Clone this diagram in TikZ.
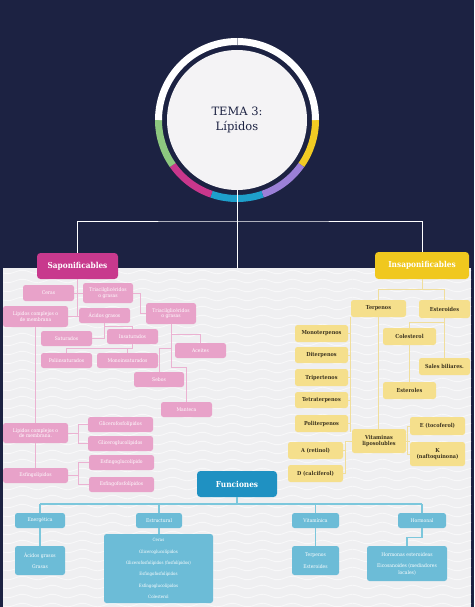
\documentclass[tikz,border=0pt]{standalone}
\usepackage{fontspec}
\setmainfont{DejaVu Serif}
\newfontfamily\condfont{DejaVu Serif Condensed}
\usetikzlibrary{calc}
\definecolor{navy}{HTML}{1C2242}
\definecolor{paper}{HTML}{EFEFF1}
\definecolor{wavec}{HTML}{F8F8F9}
\definecolor{disc}{HTML}{F4F3F5}
\definecolor{sap}{HTML}{C8398D}
\definecolor{pinkbox}{HTML}{E8A2C9}
\definecolor{pinkline}{HTML}{EBB2D2}
\definecolor{insap}{HTML}{F0C81E}
\definecolor{ybox}{HTML}{F5DF8C}
\definecolor{yline}{HTML}{F0DE9C}
\definecolor{ytext}{HTML}{3E3520}
\definecolor{func}{HTML}{1F91C2}
\definecolor{bbox}{HTML}{6CBCD7}
\definecolor{blueline}{HTML}{7CC7DC}
\definecolor{ringyel}{HTML}{F1CB23}
\definecolor{ringpur}{HTML}{9B80D8}
\definecolor{ringblu}{HTML}{1E9FCB}
\definecolor{ringmag}{HTML}{C8378C}
\definecolor{ringgrn}{HTML}{8DC77F}
\tikzset{
  wave/.style={draw=wavec, line width=0.9pt},
  ring/.style={line width=7pt},
  wline/.style={draw=white, line width=0.9pt},
  pkl/.style={draw=pinkline, line width=0.9pt},
  yll/.style={draw=yline, line width=0.9pt},
  bll/.style={draw=blueline, line width=1.4pt},
  sz/.style 2 args={minimum width=#1pt, minimum height=#2pt},
  pk/.style={fill=pinkbox, rounded corners=2.5pt, text=white, inner sep=0.5pt, align=center,
    font=\condfont\fontsize{5}{5.8}\selectfont},
  yl/.style={fill=ybox, rounded corners=2.5pt, text=ytext, inner sep=0.5pt, align=center,
    font=\condfont\bfseries\fontsize{5.5}{6.4}\selectfont},
  bl/.style={fill=bbox, rounded corners=2.5pt, text=white, inner sep=0.5pt, align=center,
    font=\condfont\fontsize{5}{6.5}\selectfont},
  bld/.style={bl, font=\condfont\fontsize{4.4}{6.5}\selectfont},
  head/.style={rounded corners=3.5pt, text=white, inner sep=0.5pt,
    font=\condfont\bfseries\fontsize{8.2}{10}\selectfont},
}

\begin{document}
\begin{tikzpicture}[x=1pt,y=-1pt]
  \useasboundingbox (0,0) rectangle (474,607);
  \fill[navy] (0,0) rectangle (474,607);
  \fill[paper] (3,268) rectangle (471,607);
  \begin{scope}
    \clip (3,268) rectangle (471,607);
    \foreach \k in {0,...,38}
      \draw[wave] plot[domain=3:471, samples=80, smooth] (\x, {272+9*\k+1.8*sin(12*\x)});
  \end{scope}

  % title circle
  \coordinate (ctr) at (237,120);
  \coordinate (hub) at (237,221);
  \coordinate (stem) at (237,268);
  \foreach \a/\b/\c in {0/35/ringyel, 35/71/ringpur, 71/109/ringblu, 109/145/ringmag, 145/180/ringgrn, 180/360/white}
    \draw[ring, \c] (ctr) ++(\a:78.5) arc[start angle=\a, end angle=\b, radius=78.5];
  \draw[draw=navy!40, line width=0.5pt] (237,38) -- (237,45);
  \node[circle, fill=disc, minimum size=140pt, inner sep=0pt, align=center, text=navy,
    font=\fontsize{11.5}{15}\selectfont] (title) at (ctr) {TEMA 3:\\Lípidos};

  % headers
  \node[head, fill=sap, sz={81}{26}] (sapon) at (77.5,266) {Saponificables};
  \node[head, fill=insap, sz={94}{27}] (insapon) at (422,265.5) {Insaponificables};
  \node[head, fill=func, sz={80}{26}] (funciones) at (237,484) {Funciones};
  \draw[wline] (title.south) -- (stem);
  \draw[wline] (sapon.north) |- (hub) -| (insapon.north);

  % saponificables
  \node[pk, sz={51}{16}] (ceras) at (48.5,293) {Ceras};
  \node[pk, sz={50}{20}] (triA) at (108,293) {Triacilglicéridos\\o grasas};
  \node[pk, sz={65}{21}] (lipA) at (35.5,316.5) {Lípidos complejos o\\de membrana};
  \node[pk, sz={51}{15}] (acidos) at (104.5,315.5) {Ácidos grasos};
  \node[pk, sz={50}{21}] (triB) at (171,313.5) {Triacilglicéridos\\o grasas};
  \node[pk, sz={51}{15}] (saturados) at (66.5,338.5) {Saturados};
  \node[pk, sz={51}{15}] (insat) at (132.5,336.5) {Insaturados};
  \node[pk, sz={51}{15}] (aceites) at (200.5,350.5) {Aceites};
  \node[pk, sz={51}{15}] (poli) at (66.5,360.5) {Poliinsaturados};
  \node[pk, sz={61}{15}] (mono) at (127.5,360.5) {Monoinsaturados};
  \node[pk, sz={50}{15}] (sebos) at (159,379.5) {Sebos};
  \node[pk, sz={51}{15}] (manteca) at (186.5,409.5) {Manteca};
  \node[pk, sz={65}{20}] (lipB) at (35.5,433) {Lípidos complejos o\\de membrana.};
  \node[pk, sz={65}{15}] (glifos) at (120.5,424.5) {Glicerofosfolípidos};
  \node[pk, sz={65}{15}] (gliglu) at (120.5,443.5) {Gliceroglucolípidos};
  \node[pk, sz={65}{15}] (esfglu) at (121.5,462.5) {Esfingoglucolípido};
  \node[pk, sz={65}{15}] (esfingo) at (35.5,475.5) {Esfingolípidos};
  \node[pk, sz={65}{15}] (esffos) at (121.5,484.5) {Esfingofosfolípidos};

  \draw[pkl] (sapon.south) -- (sapon.south |- lipA.east);
  \draw[pkl] (ceras.east) -- (triA.west);
  \draw[pkl] (lipA.east) -- (lipA.east -| acidos.west);
  \draw[pkl] (triA.east) -- ++(7,0) |- (triB.west);
  \draw[pkl] (acidos.south) |- (saturados.east);
  \draw[pkl] ($(acidos.south)+(0,3)$) -| (insat.north);
  \draw[pkl] (insat.south) -- ++(0,4.5) -| (poli.north);
  \draw[pkl] ($(insat.south)+(0,4.5)$) -| (mono.north);
  \draw[pkl] (triB.south) -- ++(0,43) -| (manteca.north);
  \draw[pkl] ($(triB.south)+(0,10)$) -| (aceites.north);
  \draw[pkl] ($(triB.south)+(0,24)$) -| (sebos.north);
  \draw[pkl] (lipA.south) -- (lipB.north);
  \draw[pkl] (lipB.south) -- (esfingo.north);
  \draw[pkl] (lipB.east) -- ++(10,0);
  \draw[pkl] ($(lipB.east)+(10,0)$) |- (glifos.west);
  \draw[pkl] ($(lipB.east)+(10,0)$) |- (gliglu.west);
  \draw[pkl] (esfingo.east) -- ++(10,0);
  \draw[pkl] ($(esfingo.east)+(10,0)$) |- (esfglu.west);
  \draw[pkl] ($(esfingo.east)+(10,0)$) |- (esffos.west);

  % insaponificables
  \node[yl, sz={55}{17}] (terpenos) at (378.5,308.5) {Terpenos};
  \node[yl, sz={51}{18}] (esteroides) at (444.5,309) {Esteroides};
  \node[yl, sz={53}{17}] (monot) at (321.5,333.5) {Monoterpenos};
  \node[yl, sz={53}{16}] (dit) at (321.5,355) {Diterpenos};
  \node[yl, sz={53}{17}] (trip) at (321.5,377.5) {Tripertenos};
  \node[yl, sz={53}{16}] (tetra) at (321.5,400) {Tetraterpenos};
  \node[yl, sz={53}{17}] (polit) at (321.5,423.5) {Politerpenos};
  \node[yl, sz={54}{24}] (vitlip) at (379,441) {Vitaminas\\liposolubles};
  \node[yl, sz={55}{17}] (aret) at (315.5,450.5) {A (retinol)};
  \node[yl, sz={55}{17}] (dcal) at (315.5,473.5) {D (calciferol)};
  \node[yl, sz={53}{17}] (coles) at (409.5,336.5) {Colesterol};
  \node[yl, sz={51}{17}] (sales) at (444.5,366.5) {Sales biliares.};
  \node[yl, sz={53}{17}] (esteroles) at (409.5,390.5) {Esteroles};
  \node[yl, sz={55}{18}] (etoc) at (437.5,426) {E (tocoferol)};
  \node[yl, sz={55}{24}] (knaf) at (437.5,454) {K\\(naftoquinona)};

  \draw[yll] (insapon.south) -- ++(0,10) -| (terpenos.north);
  \draw[yll] ($(insapon.south)+(0,10)$) -| (esteroides.north);
  \draw[yll] (terpenos.south west) -- (terpenos.south west |- polit.south);
  \foreach \n in {monot,dit,trip,tetra,polit}
    \draw[yll] (\n.east) -- (\n.east -| terpenos.south west);
  \draw[yll] (terpenos.south) -- (terpenos.south |- vitlip.north);
  \draw[yll] (vitlip.west) -- ++(-6,0) |- (dcal.east);
  \draw[yll] (aret.east) -- ++(3,0);
  \draw[yll] (vitlip.east) -- (vitlip.east -| etoc.west);
  \draw[yll] (etoc.west) -- ++(-2.5,0) |- (knaf.west);
  \draw[yll] (esteroides.south) -- (sales.north);
  \draw[yll] ($(esteroides.south)+(0,4)$) -| (coles.north);
  \draw[yll] (coles.south) -- (esteroles.north);

  % funciones
  \coordinate (fbar) at (237,504);
  \node[bl, sz={50}{15}] (energetica) at (40,520.5) {Energética};
  \node[bl, sz={46}{15}] (estructural) at (159,520.5) {Estructural};
  \node[bl, sz={47}{15}] (vitaminica) at (315.5,520.5) {Vitamínica};
  \node[bl, sz={48}{15}] (hormonal) at (422,520.5) {Hormonal};
  \node[bl, sz={50}{29}] (enerdet) at (40,560.5) {Ácidos grasos\\[5pt]Grasas};
  \node[bld, sz={109}{69}] (estrdet) at (158.5,568.5) {Ceras\\[4.8pt]Gliceroglucolípidos\\[4.8pt]Glicerofosfolípidos (fosfolípidos)\\[4.8pt]Esfingofosfolípidos\\[4.8pt]Esfingoglucolípidos\\[4.8pt]Colesterol};
  \node[bl, sz={47}{29}] (vitdet) at (315.5,560.5) {Terpenos\\[5pt]Esteroides};
  \node[bl, sz={80}{35}] (hormdet) at (407,563.5) {Hormonas esteroideas\\[5pt]Eicosanoides (mediadores\\locales)};

  \draw[bll] (funciones.south) -- (fbar);
  \draw[bll] (energetica.north |- fbar) -- (hormonal.north |- fbar);
  \foreach \n in {energetica,estructural,vitaminica,hormonal}
    \draw[bll] (\n.north) -- (\n.north |- fbar);
  \draw[bll] (energetica.south) -- (enerdet.north);
  \draw[bll] (estructural.south) -- (estructural.south |- estrdet.north);
  \draw[bll] (vitaminica.south) -- (vitdet.north);
  \draw[bll] (hormonal.south) -- ++(0,9) -| (hormdet.north);
\end{tikzpicture}
\end{document}
